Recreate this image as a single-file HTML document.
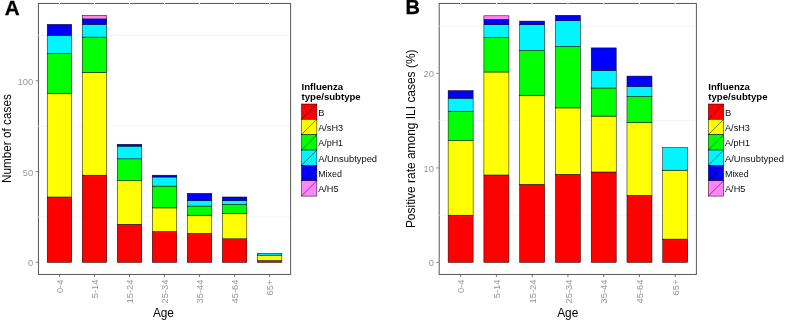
<!DOCTYPE html>
<html><head><meta charset="utf-8"><title>Influenza type/subtype by age</title>
<style>
html,body{margin:0;padding:0;background:#fff;}
body{width:785px;height:321px;overflow:hidden;}
svg{display:block;font-family:'Liberation Sans', sans-serif;}
</style></head>
<body>
<svg width="785" height="321" viewBox="0 0 785 321">
<rect width="785" height="321" fill="#fff"/>
<g>
<line x1="37.95" x2="289.60" y1="216.97" y2="216.97" stroke="#f0f0f0" stroke-width="0.8"/>
<line x1="37.95" x2="289.60" y1="126.12" y2="126.12" stroke="#f0f0f0" stroke-width="0.8"/>
<line x1="37.95" x2="289.60" y1="35.27" y2="35.27" stroke="#f0f0f0" stroke-width="0.8"/>
<rect x="38.45" y="3.45" width="252.15" height="271.00" fill="none" stroke="#585858" stroke-width="1"/>
<line x1="59.46" x2="59.46" y1="2.75" y2="4.15" stroke="#fff" stroke-width="1"/>
<line x1="94.48" x2="94.48" y1="2.75" y2="4.15" stroke="#fff" stroke-width="1"/>
<line x1="129.50" x2="129.50" y1="2.75" y2="4.15" stroke="#fff" stroke-width="1"/>
<line x1="164.53" x2="164.53" y1="2.75" y2="4.15" stroke="#fff" stroke-width="1"/>
<line x1="199.55" x2="199.55" y1="2.75" y2="4.15" stroke="#fff" stroke-width="1"/>
<line x1="234.57" x2="234.57" y1="2.75" y2="4.15" stroke="#fff" stroke-width="1"/>
<line x1="269.59" x2="269.59" y1="2.75" y2="4.15" stroke="#fff" stroke-width="1"/>
<line x1="37.85" x2="39.05" y1="216.97" y2="216.97" stroke="#e8e8e8" stroke-width="0.8"/>
<line x1="37.85" x2="39.05" y1="126.12" y2="126.12" stroke="#e8e8e8" stroke-width="0.8"/>
<line x1="37.85" x2="39.05" y1="35.27" y2="35.27" stroke="#e8e8e8" stroke-width="0.8"/>
<rect x="47.21" y="196.99" width="24.51" height="65.41" fill="#FF0000" stroke="#000" stroke-width="0.5"/>
<rect x="47.21" y="93.42" width="24.51" height="103.57" fill="#FFFF00" stroke="#000" stroke-width="0.5"/>
<rect x="47.21" y="53.44" width="24.51" height="39.97" fill="#00FF00" stroke="#000" stroke-width="0.5"/>
<rect x="47.21" y="35.27" width="24.51" height="18.17" fill="#00F5FF" stroke="#000" stroke-width="0.5"/>
<rect x="47.21" y="24.37" width="24.51" height="10.90" fill="#0000FF" stroke="#000" stroke-width="0.5"/>
<rect x="82.23" y="175.18" width="24.51" height="87.22" fill="#FF0000" stroke="#000" stroke-width="0.5"/>
<rect x="82.23" y="72.25" width="24.51" height="102.93" fill="#FFFF00" stroke="#000" stroke-width="0.5"/>
<rect x="82.23" y="37.09" width="24.51" height="35.16" fill="#00FF00" stroke="#000" stroke-width="0.5"/>
<rect x="82.23" y="24.37" width="24.51" height="12.72" fill="#00F5FF" stroke="#000" stroke-width="0.5"/>
<rect x="82.23" y="18.92" width="24.51" height="5.45" fill="#0000FF" stroke="#000" stroke-width="0.5"/>
<rect x="82.23" y="15.29" width="24.51" height="3.63" fill="#FF83FA" stroke="#000" stroke-width="0.5"/>
<rect x="117.25" y="224.24" width="24.51" height="38.16" fill="#FF0000" stroke="#000" stroke-width="0.5"/>
<rect x="117.25" y="180.63" width="24.51" height="43.61" fill="#FFFF00" stroke="#000" stroke-width="0.5"/>
<rect x="117.25" y="158.83" width="24.51" height="21.80" fill="#00FF00" stroke="#000" stroke-width="0.5"/>
<rect x="117.25" y="146.11" width="24.51" height="12.72" fill="#00F5FF" stroke="#000" stroke-width="0.5"/>
<rect x="117.25" y="144.29" width="24.51" height="1.82" fill="#0000FF" stroke="#000" stroke-width="0.5"/>
<rect x="152.27" y="231.51" width="24.51" height="30.89" fill="#FF0000" stroke="#000" stroke-width="0.5"/>
<rect x="152.27" y="207.89" width="24.51" height="23.62" fill="#FFFF00" stroke="#000" stroke-width="0.5"/>
<rect x="152.27" y="186.09" width="24.51" height="21.80" fill="#00FF00" stroke="#000" stroke-width="0.5"/>
<rect x="152.27" y="177.00" width="24.51" height="9.09" fill="#00F5FF" stroke="#000" stroke-width="0.5"/>
<rect x="152.27" y="175.18" width="24.51" height="1.82" fill="#0000FF" stroke="#000" stroke-width="0.5"/>
<rect x="187.29" y="233.33" width="24.51" height="29.07" fill="#FF0000" stroke="#000" stroke-width="0.5"/>
<rect x="187.29" y="215.16" width="24.51" height="18.17" fill="#FFFF00" stroke="#000" stroke-width="0.5"/>
<rect x="187.29" y="206.07" width="24.51" height="9.09" fill="#00FF00" stroke="#000" stroke-width="0.5"/>
<rect x="187.29" y="200.62" width="24.51" height="5.45" fill="#00F5FF" stroke="#000" stroke-width="0.5"/>
<rect x="187.29" y="193.35" width="24.51" height="7.27" fill="#0000FF" stroke="#000" stroke-width="0.5"/>
<rect x="222.31" y="238.78" width="24.51" height="23.62" fill="#FF0000" stroke="#000" stroke-width="0.5"/>
<rect x="222.31" y="213.34" width="24.51" height="25.44" fill="#FFFF00" stroke="#000" stroke-width="0.5"/>
<rect x="222.31" y="204.26" width="24.51" height="9.09" fill="#00FF00" stroke="#000" stroke-width="0.5"/>
<rect x="222.31" y="200.62" width="24.51" height="3.63" fill="#00F5FF" stroke="#000" stroke-width="0.5"/>
<rect x="222.31" y="196.99" width="24.51" height="3.63" fill="#0000FF" stroke="#000" stroke-width="0.5"/>
<rect x="257.33" y="260.58" width="24.51" height="1.82" fill="#FF0000" stroke="#000" stroke-width="0.5"/>
<rect x="257.33" y="255.13" width="24.51" height="5.45" fill="#FFFF00" stroke="#000" stroke-width="0.5"/>
<rect x="257.33" y="253.31" width="24.51" height="1.82" fill="#00F5FF" stroke="#000" stroke-width="0.5"/>
<line x1="35.55" x2="38.05" y1="262.40" y2="262.40" stroke="#6a6a6a" stroke-width="0.75"/>
<text x="33.25" y="266.40" text-anchor="end" font-size="9.35" fill="#989898">0</text>
<line x1="35.55" x2="38.05" y1="171.55" y2="171.55" stroke="#6a6a6a" stroke-width="0.75"/>
<text x="33.25" y="175.55" text-anchor="end" font-size="9.35" fill="#989898">50</text>
<line x1="35.55" x2="38.05" y1="80.70" y2="80.70" stroke="#6a6a6a" stroke-width="0.75"/>
<text x="33.25" y="84.70" text-anchor="end" font-size="9.35" fill="#989898">100</text>
<line x1="59.46" x2="59.46" y1="274.85" y2="277.05" stroke="#5a5a5a" stroke-width="0.85"/>
<text transform="translate(63.21,279.6) rotate(-90)" text-anchor="end" font-size="9.35" fill="#989898">0-4</text>
<line x1="94.48" x2="94.48" y1="274.85" y2="277.05" stroke="#5a5a5a" stroke-width="0.85"/>
<text transform="translate(98.23,279.6) rotate(-90)" text-anchor="end" font-size="9.35" fill="#989898">5-14</text>
<line x1="129.50" x2="129.50" y1="274.85" y2="277.05" stroke="#5a5a5a" stroke-width="0.85"/>
<text transform="translate(133.25,279.6) rotate(-90)" text-anchor="end" font-size="9.35" fill="#989898">15-24</text>
<line x1="164.53" x2="164.53" y1="274.85" y2="277.05" stroke="#5a5a5a" stroke-width="0.85"/>
<text transform="translate(168.28,279.6) rotate(-90)" text-anchor="end" font-size="9.35" fill="#989898">25-34</text>
<line x1="199.55" x2="199.55" y1="274.85" y2="277.05" stroke="#5a5a5a" stroke-width="0.85"/>
<text transform="translate(203.30,279.6) rotate(-90)" text-anchor="end" font-size="9.35" fill="#989898">35-44</text>
<line x1="234.57" x2="234.57" y1="274.85" y2="277.05" stroke="#5a5a5a" stroke-width="0.85"/>
<text transform="translate(238.32,279.6) rotate(-90)" text-anchor="end" font-size="9.35" fill="#989898">45-64</text>
<line x1="269.59" x2="269.59" y1="274.85" y2="277.05" stroke="#5a5a5a" stroke-width="0.85"/>
<text transform="translate(273.34,279.6) rotate(-90)" text-anchor="end" font-size="9.35" fill="#989898">65+</text>
<text x="163.43" y="316.5" text-anchor="middle" font-size="12" textLength="21.1" lengthAdjust="spacingAndGlyphs" fill="#000">Age</text>
<text transform="translate(11.20,138.65) rotate(-90)" text-anchor="middle" font-size="12" textLength="88.9" lengthAdjust="spacingAndGlyphs" fill="#000">Number of cases</text>
<text x="4.75" y="14.80" font-size="20.6" font-weight="bold" fill="#000" stroke="#000" stroke-width="0.3">A</text>
<text x="301.50" y="89.8" font-size="9.6" font-weight="bold" fill="#000">Influenza</text>
<text x="301.50" y="100.4" font-size="9.6" font-weight="bold" fill="#000">type/subtype</text>
<rect x="301.50" y="104.00" width="15.35" height="15.35" fill="#FF0000" stroke="#000" stroke-width="0.5"/>
<line x1="301.50" y1="119.35" x2="316.85" y2="104.00" stroke="#000" stroke-width="0.5"/>
<text x="318.20" y="115.52" font-size="9.35" fill="#0d0d0d">B</text>
<rect x="301.50" y="119.35" width="15.35" height="15.35" fill="#FFFF00" stroke="#000" stroke-width="0.5"/>
<line x1="301.50" y1="134.70" x2="316.85" y2="119.35" stroke="#000" stroke-width="0.5"/>
<text x="318.20" y="130.88" font-size="9.35" textLength="24.9" lengthAdjust="spacingAndGlyphs" fill="#0d0d0d">A/sH3</text>
<rect x="301.50" y="134.70" width="15.35" height="15.35" fill="#00FF00" stroke="#000" stroke-width="0.5"/>
<line x1="301.50" y1="150.05" x2="316.85" y2="134.70" stroke="#000" stroke-width="0.5"/>
<text x="318.20" y="146.22" font-size="9.35" textLength="24.9" lengthAdjust="spacingAndGlyphs" fill="#0d0d0d">A/pH1</text>
<rect x="301.50" y="150.05" width="15.35" height="15.35" fill="#00F5FF" stroke="#000" stroke-width="0.5"/>
<line x1="301.50" y1="165.40" x2="316.85" y2="150.05" stroke="#000" stroke-width="0.5"/>
<text x="318.20" y="161.58" font-size="9.35" textLength="58.9" lengthAdjust="spacingAndGlyphs" fill="#0d0d0d">A/Unsubtyped</text>
<rect x="301.50" y="165.40" width="15.35" height="15.35" fill="#0000FF" stroke="#000" stroke-width="0.5"/>
<line x1="301.50" y1="180.75" x2="316.85" y2="165.40" stroke="#000" stroke-width="0.5"/>
<text x="318.20" y="176.93" font-size="9.35" textLength="23.7" lengthAdjust="spacingAndGlyphs" fill="#0d0d0d">Mixed</text>
<rect x="301.50" y="180.75" width="15.35" height="15.35" fill="#FF83FA" stroke="#000" stroke-width="0.5"/>
<line x1="301.50" y1="196.10" x2="316.85" y2="180.75" stroke="#000" stroke-width="0.5"/>
<text x="318.20" y="192.28" font-size="9.35" textLength="20.4" lengthAdjust="spacingAndGlyphs" fill="#0d0d0d">A/H5</text>
</g>
<g>
<line x1="438.70" x2="695.40" y1="215.15" y2="215.15" stroke="#f0f0f0" stroke-width="0.8"/>
<line x1="438.70" x2="695.40" y1="120.65" y2="120.65" stroke="#f0f0f0" stroke-width="0.8"/>
<line x1="438.70" x2="695.40" y1="26.15" y2="26.15" stroke="#f0f0f0" stroke-width="0.8"/>
<rect x="439.20" y="3.45" width="257.20" height="271.00" fill="none" stroke="#585858" stroke-width="1"/>
<line x1="460.63" x2="460.63" y1="2.75" y2="4.15" stroke="#fff" stroke-width="1"/>
<line x1="496.40" x2="496.40" y1="2.75" y2="4.15" stroke="#fff" stroke-width="1"/>
<line x1="532.17" x2="532.17" y1="2.75" y2="4.15" stroke="#fff" stroke-width="1"/>
<line x1="567.93" x2="567.93" y1="2.75" y2="4.15" stroke="#fff" stroke-width="1"/>
<line x1="603.70" x2="603.70" y1="2.75" y2="4.15" stroke="#fff" stroke-width="1"/>
<line x1="639.47" x2="639.47" y1="2.75" y2="4.15" stroke="#fff" stroke-width="1"/>
<line x1="675.24" x2="675.24" y1="2.75" y2="4.15" stroke="#fff" stroke-width="1"/>
<line x1="438.60" x2="439.80" y1="215.15" y2="215.15" stroke="#e8e8e8" stroke-width="0.8"/>
<line x1="438.60" x2="439.80" y1="120.65" y2="120.65" stroke="#e8e8e8" stroke-width="0.8"/>
<line x1="438.60" x2="439.80" y1="26.15" y2="26.15" stroke="#e8e8e8" stroke-width="0.8"/>
<rect x="448.13" y="215.20" width="25.01" height="47.20" fill="#FF0000" stroke="#000" stroke-width="0.5"/>
<rect x="448.13" y="140.40" width="25.01" height="74.80" fill="#FFFF00" stroke="#000" stroke-width="0.5"/>
<rect x="448.13" y="111.20" width="25.01" height="29.20" fill="#00FF00" stroke="#000" stroke-width="0.5"/>
<rect x="448.13" y="98.20" width="25.01" height="13.00" fill="#00F5FF" stroke="#000" stroke-width="0.5"/>
<rect x="448.13" y="90.60" width="25.01" height="7.60" fill="#0000FF" stroke="#000" stroke-width="0.5"/>
<rect x="483.90" y="175.00" width="25.01" height="87.40" fill="#FF0000" stroke="#000" stroke-width="0.5"/>
<rect x="483.90" y="72.00" width="25.01" height="103.00" fill="#FFFF00" stroke="#000" stroke-width="0.5"/>
<rect x="483.90" y="37.50" width="25.01" height="34.50" fill="#00FF00" stroke="#000" stroke-width="0.5"/>
<rect x="483.90" y="24.70" width="25.01" height="12.80" fill="#00F5FF" stroke="#000" stroke-width="0.5"/>
<rect x="483.90" y="19.40" width="25.01" height="5.30" fill="#0000FF" stroke="#000" stroke-width="0.5"/>
<rect x="483.90" y="15.80" width="25.01" height="3.60" fill="#FF83FA" stroke="#000" stroke-width="0.5"/>
<rect x="519.67" y="184.30" width="25.01" height="78.10" fill="#FF0000" stroke="#000" stroke-width="0.5"/>
<rect x="519.67" y="95.20" width="25.01" height="89.10" fill="#FFFF00" stroke="#000" stroke-width="0.5"/>
<rect x="519.67" y="50.40" width="25.01" height="44.80" fill="#00FF00" stroke="#000" stroke-width="0.5"/>
<rect x="519.67" y="24.70" width="25.01" height="25.70" fill="#00F5FF" stroke="#000" stroke-width="0.5"/>
<rect x="519.67" y="21.10" width="25.01" height="3.60" fill="#0000FF" stroke="#000" stroke-width="0.5"/>
<rect x="555.43" y="174.30" width="25.01" height="88.10" fill="#FF0000" stroke="#000" stroke-width="0.5"/>
<rect x="555.43" y="107.90" width="25.01" height="66.40" fill="#FFFF00" stroke="#000" stroke-width="0.5"/>
<rect x="555.43" y="46.40" width="25.01" height="61.50" fill="#00FF00" stroke="#000" stroke-width="0.5"/>
<rect x="555.43" y="20.60" width="25.01" height="25.80" fill="#00F5FF" stroke="#000" stroke-width="0.5"/>
<rect x="555.43" y="15.30" width="25.01" height="5.30" fill="#0000FF" stroke="#000" stroke-width="0.5"/>
<rect x="591.20" y="172.00" width="25.01" height="90.40" fill="#FF0000" stroke="#000" stroke-width="0.5"/>
<rect x="591.20" y="116.10" width="25.01" height="55.90" fill="#FFFF00" stroke="#000" stroke-width="0.5"/>
<rect x="591.20" y="88.00" width="25.01" height="28.10" fill="#00FF00" stroke="#000" stroke-width="0.5"/>
<rect x="591.20" y="70.40" width="25.01" height="17.60" fill="#00F5FF" stroke="#000" stroke-width="0.5"/>
<rect x="591.20" y="47.90" width="25.01" height="22.50" fill="#0000FF" stroke="#000" stroke-width="0.5"/>
<rect x="626.97" y="195.30" width="25.01" height="67.10" fill="#FF0000" stroke="#000" stroke-width="0.5"/>
<rect x="626.97" y="122.40" width="25.01" height="72.90" fill="#FFFF00" stroke="#000" stroke-width="0.5"/>
<rect x="626.97" y="96.40" width="25.01" height="26.00" fill="#00FF00" stroke="#000" stroke-width="0.5"/>
<rect x="626.97" y="86.50" width="25.01" height="9.90" fill="#00F5FF" stroke="#000" stroke-width="0.5"/>
<rect x="626.97" y="76.10" width="25.01" height="10.40" fill="#0000FF" stroke="#000" stroke-width="0.5"/>
<rect x="662.73" y="239.10" width="25.01" height="23.30" fill="#FF0000" stroke="#000" stroke-width="0.5"/>
<rect x="662.73" y="170.20" width="25.01" height="68.90" fill="#FFFF00" stroke="#000" stroke-width="0.5"/>
<rect x="662.73" y="147.50" width="25.01" height="22.70" fill="#00F5FF" stroke="#000" stroke-width="0.5"/>
<line x1="436.30" x2="438.80" y1="262.40" y2="262.40" stroke="#6a6a6a" stroke-width="0.75"/>
<text x="434.00" y="266.40" text-anchor="end" font-size="9.35" fill="#989898">0</text>
<line x1="436.30" x2="438.80" y1="167.90" y2="167.90" stroke="#6a6a6a" stroke-width="0.75"/>
<text x="434.00" y="171.90" text-anchor="end" font-size="9.35" fill="#989898">10</text>
<line x1="436.30" x2="438.80" y1="73.40" y2="73.40" stroke="#6a6a6a" stroke-width="0.75"/>
<text x="434.00" y="77.40" text-anchor="end" font-size="9.35" fill="#989898">20</text>
<line x1="460.63" x2="460.63" y1="274.85" y2="277.05" stroke="#5a5a5a" stroke-width="0.85"/>
<text transform="translate(464.38,279.6) rotate(-90)" text-anchor="end" font-size="9.35" fill="#989898">0-4</text>
<line x1="496.40" x2="496.40" y1="274.85" y2="277.05" stroke="#5a5a5a" stroke-width="0.85"/>
<text transform="translate(500.15,279.6) rotate(-90)" text-anchor="end" font-size="9.35" fill="#989898">5-14</text>
<line x1="532.17" x2="532.17" y1="274.85" y2="277.05" stroke="#5a5a5a" stroke-width="0.85"/>
<text transform="translate(535.92,279.6) rotate(-90)" text-anchor="end" font-size="9.35" fill="#989898">15-24</text>
<line x1="567.93" x2="567.93" y1="274.85" y2="277.05" stroke="#5a5a5a" stroke-width="0.85"/>
<text transform="translate(571.68,279.6) rotate(-90)" text-anchor="end" font-size="9.35" fill="#989898">25-34</text>
<line x1="603.70" x2="603.70" y1="274.85" y2="277.05" stroke="#5a5a5a" stroke-width="0.85"/>
<text transform="translate(607.45,279.6) rotate(-90)" text-anchor="end" font-size="9.35" fill="#989898">35-44</text>
<line x1="639.47" x2="639.47" y1="274.85" y2="277.05" stroke="#5a5a5a" stroke-width="0.85"/>
<text transform="translate(643.22,279.6) rotate(-90)" text-anchor="end" font-size="9.35" fill="#989898">45-64</text>
<line x1="675.24" x2="675.24" y1="274.85" y2="277.05" stroke="#5a5a5a" stroke-width="0.85"/>
<text transform="translate(678.99,279.6) rotate(-90)" text-anchor="end" font-size="9.35" fill="#989898">65+</text>
<text x="567.70" y="316.5" text-anchor="middle" font-size="12" textLength="21.1" lengthAdjust="spacingAndGlyphs" fill="#000">Age</text>
<text transform="translate(414.70,138.80) rotate(-90)" text-anchor="middle" font-size="12" textLength="178.6" lengthAdjust="spacingAndGlyphs" fill="#000">Positive rate among ILI cases (%)</text>
<text x="405.55" y="14.35" font-size="20" font-weight="bold" fill="#000" stroke="#000" stroke-width="0.3">B</text>
<text x="708.30" y="89.8" font-size="9.6" font-weight="bold" fill="#000">Influenza</text>
<text x="708.30" y="100.4" font-size="9.6" font-weight="bold" fill="#000">type/subtype</text>
<rect x="708.30" y="104.00" width="15.35" height="15.35" fill="#FF0000" stroke="#000" stroke-width="0.5"/>
<line x1="708.30" y1="119.35" x2="723.65" y2="104.00" stroke="#000" stroke-width="0.5"/>
<text x="725.00" y="115.52" font-size="9.35" fill="#0d0d0d">B</text>
<rect x="708.30" y="119.35" width="15.35" height="15.35" fill="#FFFF00" stroke="#000" stroke-width="0.5"/>
<line x1="708.30" y1="134.70" x2="723.65" y2="119.35" stroke="#000" stroke-width="0.5"/>
<text x="725.00" y="130.88" font-size="9.35" textLength="24.9" lengthAdjust="spacingAndGlyphs" fill="#0d0d0d">A/sH3</text>
<rect x="708.30" y="134.70" width="15.35" height="15.35" fill="#00FF00" stroke="#000" stroke-width="0.5"/>
<line x1="708.30" y1="150.05" x2="723.65" y2="134.70" stroke="#000" stroke-width="0.5"/>
<text x="725.00" y="146.22" font-size="9.35" textLength="24.9" lengthAdjust="spacingAndGlyphs" fill="#0d0d0d">A/pH1</text>
<rect x="708.30" y="150.05" width="15.35" height="15.35" fill="#00F5FF" stroke="#000" stroke-width="0.5"/>
<line x1="708.30" y1="165.40" x2="723.65" y2="150.05" stroke="#000" stroke-width="0.5"/>
<text x="725.00" y="161.58" font-size="9.35" textLength="58.9" lengthAdjust="spacingAndGlyphs" fill="#0d0d0d">A/Unsubtyped</text>
<rect x="708.30" y="165.40" width="15.35" height="15.35" fill="#0000FF" stroke="#000" stroke-width="0.5"/>
<line x1="708.30" y1="180.75" x2="723.65" y2="165.40" stroke="#000" stroke-width="0.5"/>
<text x="725.00" y="176.93" font-size="9.35" textLength="23.7" lengthAdjust="spacingAndGlyphs" fill="#0d0d0d">Mixed</text>
<rect x="708.30" y="180.75" width="15.35" height="15.35" fill="#FF83FA" stroke="#000" stroke-width="0.5"/>
<line x1="708.30" y1="196.10" x2="723.65" y2="180.75" stroke="#000" stroke-width="0.5"/>
<text x="725.00" y="192.28" font-size="9.35" textLength="20.4" lengthAdjust="spacingAndGlyphs" fill="#0d0d0d">A/H5</text>
</g>
</svg>
</body></html>
